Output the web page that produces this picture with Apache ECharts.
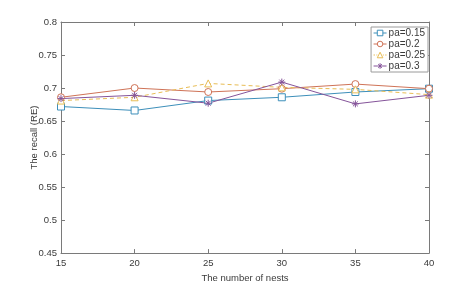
<!DOCTYPE html>
<html>
<head>
<meta charset="utf-8">
<script src="https://cdn.jsdelivr.net/npm/echarts@6/dist/echarts.min.js"></script>
<style>
  html, body { margin: 0; padding: 0; background: #fff; }
  #main { width: 474px; height: 288px; }
</style>
</head>
<body>
<div id="main"></div>
<script>
// data
let nests = [15, 20, 25, 30, 35, 40];
let pa015 = [0.672, 0.666, 0.681, 0.686, 0.694, 0.699];
let pa02  = [0.686, 0.700, 0.694, 0.699, 0.706, 0.699];
let pa025 = [0.681, 0.686, 0.707, 0.701, 0.698, 0.690];
let pa03  = [0.684, 0.689, 0.677, 0.709, 0.676, 0.689];
let names = ['pa=0.15', 'pa=0.2', 'pa=0.25', 'pa=0.3'];

let colors = ['#3d8fba', '#cf7357', '#e8bd55', '#85549a'];
let axisColor = '#7a7a7a';
let textColor = '#3a3a3a';
let font = 'Liberation Sans, Arial, sans-serif';

// asterisk marker (MATLAB '*')
let star = 'path://M5 0L5 10M0 5L10 5M1.5 1.5L8.5 8.5M8.5 1.5L1.5 8.5';

// legend icons: line - marker - line, in a 14x8 box
let icons = [
  'path://M0 4L4 4M10 4L14 4M4 1L10 1L10 7L4 7Z',
  'path://M0 4L4 4M10 4L14 4M7 1A3 3 0 1 1 6.99 1Z',
  'path://M0 4L1.5 4M3 4L4 4M10 4L11 4M12.5 4L14 4M7 1L10 7L4 7Z',
  'path://M0 4L4 4M10 4L14 4M7 1L7 7M4 4L10 4M5 2L9 6M9 2L5 6M0 0.01L0 0M0 8L0 7.99'
];

function pairs(ys) {
  return nests.map(function (x, i) { return [x, ys[i]]; });
}

function makeSeries(name, ys, color, symbol, dashed) {
  return {
    name: name,
    type: 'line',
    data: pairs(ys),
    symbol: symbol,
    symbolSize: 7,
    showSymbol: true,
    lineStyle: { color: color, width: 1, type: dashed ? [4, 3] : 'solid' },
    itemStyle: { color: symbol === star ? 'transparent' : '#fff', borderColor: color, borderWidth: 1 },
    emphasis: { disabled: true },
    animation: false
  };
}

let legendData = names.map(function (n, i) {
  return {
    name: n,
    icon: icons[i],
    itemStyle: { color: 'transparent', borderColor: colors[i], borderWidth: 1 }
  };
});

let myChart = echarts.init(document.getElementById('main'));

let tickStyle = { show: true, inside: true, length: 4, lineStyle: { color: axisColor } };

let option = {
  backgroundColor: '#fff',
  grid: { left: 61, right: 45, top: 22, bottom: 32 },
  legend: {
    data: legendData,
    orient: 'vertical',
    right: 46,
    top: 27,
    itemWidth: 13,
    itemHeight: 8,
    itemGap: 1,
    padding: [1, 3, 1, 2],
    borderColor: '#9a9a9a',
    borderWidth: 1,
    backgroundColor: '#fff',
    textStyle: { fontFamily: font, fontSize: 10, color: textColor, padding: [0, 0, 0, -3] }
  },
  xAxis: [
    {
      type: 'value', min: 15, max: 40, interval: 5,
      name: 'The number of nests', nameLocation: 'middle', nameGap: 19,
      nameTextStyle: { fontFamily: font, fontSize: 9.5, color: textColor },
      axisLine: { show: true, lineStyle: { color: axisColor } },
      axisTick: tickStyle,
      axisLabel: { fontFamily: font, fontSize: 9.5, color: textColor, margin: 5 },
      splitLine: { show: false }
    },
    {
      type: 'value', min: 15, max: 40, interval: 5, position: 'top',
      axisLine: { show: true, lineStyle: { color: axisColor } },
      axisTick: tickStyle,
      axisLabel: { show: false },
      splitLine: { show: false }
    }
  ],
  yAxis: [
    {
      type: 'value', min: 0.45, max: 0.8, interval: 0.05,
      name: 'The recall (RE)', nameLocation: 'middle', nameGap: 22,
      nameMoveOverlap: false,
      nameTextStyle: { fontFamily: font, fontSize: 9.5, color: textColor },
      axisLine: { show: true, lineStyle: { color: axisColor } },
      axisTick: tickStyle,
      axisLabel: { fontFamily: font, fontSize: 9.5, color: textColor, margin: 4,
        formatter: function (v) { return String(Math.round(v * 100) / 100); } },
      splitLine: { show: false }
    },
    {
      type: 'value', min: 0.45, max: 0.8, interval: 0.05, position: 'right',
      axisLine: { show: true, lineStyle: { color: axisColor } },
      axisTick: tickStyle,
      axisLabel: { show: false },
      splitLine: { show: false }
    }
  ],
  series: [
    makeSeries(names[0], pa015, colors[0], 'rect', false),
    makeSeries(names[1], pa02, colors[1], 'circle', false),
    makeSeries(names[2], pa025, colors[2], 'triangle', true),
    makeSeries(names[3], pa03, colors[3], star, false)
  ]
};

myChart.setOption(option);
</script>
</body>
</html>
